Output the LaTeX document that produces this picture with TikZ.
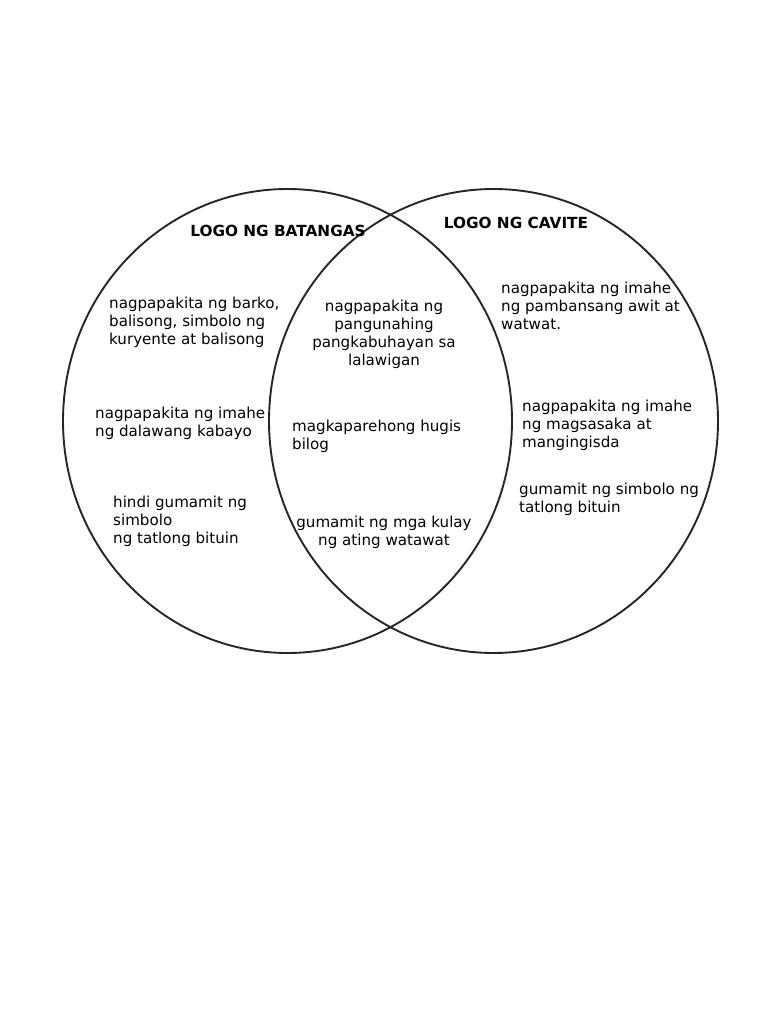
\documentclass[tikz,border=0pt]{standalone}
\usepackage{fontspec}
\setmainfont{DejaVu Sans}
\usetikzlibrary{shapes.geometric}
\begin{document}
\begin{tikzpicture}[x=1pt,y=-1pt,
  setcircle/.style={draw=black!85,line width=1.9pt,ellipse,inner sep=0pt,minimum width=449pt,minimum height=464pt},
  title/.style={font=\fontsize{15.3}{18}\selectfont\bfseries,inner sep=0pt},
  lbl/.style={font=\fontsize{15.1}{18}\selectfont,inner sep=0pt,align=left,anchor=west},
  clbl/.style={font=\fontsize{15.1}{18}\selectfont,inner sep=0pt,align=center}]
\useasboundingbox (0,0) rectangle (768,1024);
\fill[white] (0,0) rectangle (768,1024);
\node[setcircle] (L) at (287.5,421) {};
\node[setcircle] (R) at (493.5,421) {};
\node[title] (tL) at (278,231) {LOGO NG BATANGAS};
\node[title] (tR) at (516,223) {LOGO NG CAVITE};
\node[lbl] (l1) at (109,322) {nagpapakita ng barko,\\balisong, simbolo ng\\kuryente at balisong};
\node[lbl] (l2) at (95,423) {nagpapakita ng imahe\\ng dalawang kabayo};
\node[lbl] (l3) at (113,521) {hindi gumamit ng\\simbolo\\ng tatlong bituin};
\node[clbl] (c1) at (384,334) {nagpapakita ng\\pangunahing\\pangkabuhayan sa\\lalawigan};
\node[lbl] (c2) at (292,436) {magkaparehong hugis\\bilog};
\node[clbl] (c3) at (384,532) {gumamit ng mga kulay\\ng ating watawat};
\node[lbl] (r1) at (501,306) {nagpapakita ng imahe\\ng pambansang awit at\\watwat.};
\node[lbl] (r2) at (522,425) {nagpapakita ng imahe\\ng magsasaka at\\mangingisda};
\node[lbl] (r3) at (519,499) {gumamit ng simbolo ng\\tatlong bituin};
\end{tikzpicture}
\end{document}
